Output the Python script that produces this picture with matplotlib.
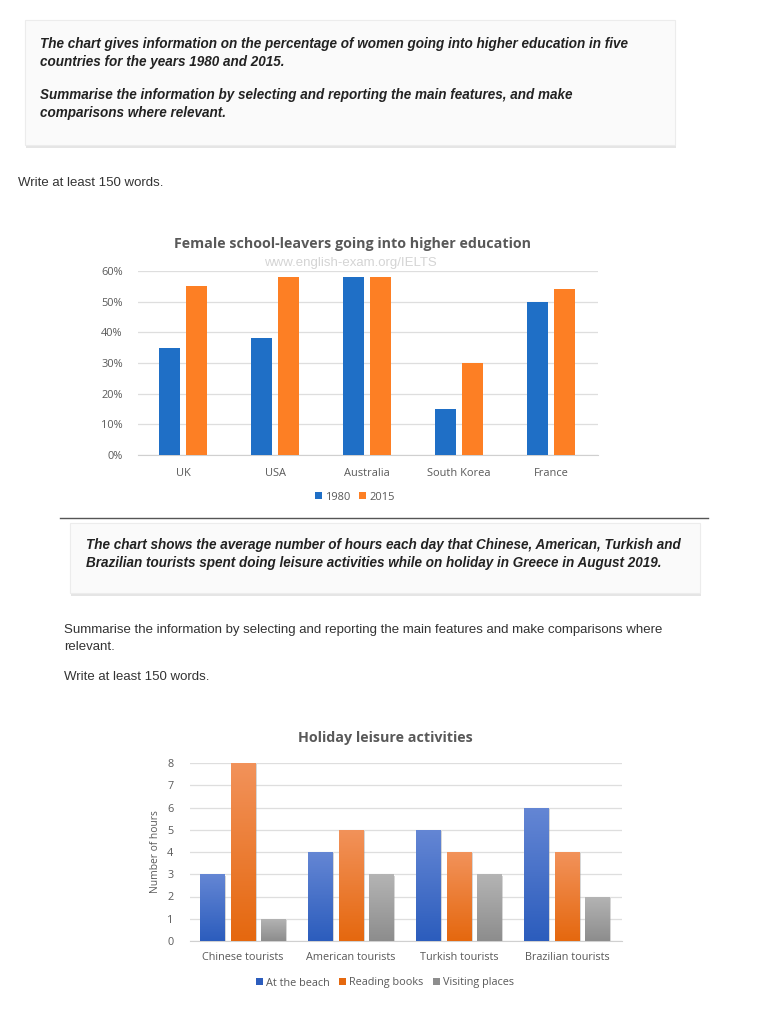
import matplotlib
matplotlib.use("Agg")
import matplotlib.pyplot as plt
import matplotlib.patheffects as pe
from matplotlib.patches import Rectangle, Patch
from matplotlib.colors import LinearSegmentedColormap
from matplotlib.ticker import FuncFormatter
import numpy as np

# chart 1 data
countries = ["UK", "USA", "Australia", "South Korea", "France"]
years = ["1980", "2015"]
pct_1980 = [35, 38, 58, 15, 50]
pct_2015 = [55, 58, 58, 30, 54]
pct_ticks = [0, 10, 20, 30, 40, 50, 60]

# chart 2 data
tourists = ["Chinese tourists", "American tourists", "Turkish tourists", "Brazilian tourists"]
activities = ["At the beach", "Reading books", "Visiting places"]
hours_beach = [3, 4, 5, 6]
hours_books = [8, 5, 4, 4]
hours_places = [1, 3, 3, 2]
hour_ticks = [0, 1, 2, 3, 4, 5, 6, 7, 8]

W, H = 768, 1024
fig = plt.figure(figsize=(W / 100, H / 100), dpi=100)
fig.patch.set_facecolor("white")

txt_font = ["Liberation Sans", "DejaVu Sans"]
chart_font = ["Open Sans", "DejaVu Sans"]


def fx(px):
    return px / W


def fy(py):
    return 1 - py / H


def add_box(x0, y0, x1, y1):
    r = Rectangle((fx(x0), fy(y1)), fx(x1 - x0), (y1 - y0) / H,
                  transform=fig.transFigure, facecolor="#fafafa",
                  edgecolor="#ececec", linewidth=0.8,
                  path_effects=[pe.withSimplePatchShadow(offset=(1, -2), shadow_rgbFace="#999999", alpha=0.25)])
    fig.patches.append(r)


def ftext(x, y, s, **kw):
    fig.text(fx(x), fy(y), s, va="center", ha="left", **kw)


# --- top task box
add_box(25, 20, 675, 145)
bi = dict(fontsize=9.75, fontweight="bold", fontstyle="italic", color="#222222", family=txt_font)
ftext(40, 44, "The chart gives information on the percentage of women going into higher education in five", **bi)
ftext(40, 62, "countries for the years 1980 and 2015.", **bi)
ftext(40, 95, "Summarise the information by selecting and reporting the main features, and make", **bi)
ftext(40, 113, "comparisons where relevant.", **bi)

plain = dict(fontsize=9.55, color="#333333", family=txt_font)
ftext(18, 183, "Write at least 150 words.", **plain)

# --- chart 1
ax1 = fig.add_axes([fx(138), fy(455), fx(598 - 138), (455 - 271) / H])
x = np.arange(len(countries))
bw = 0.23
off = 0.147
c_blue = "#1f6fc6"
c_orange = "#fd7f24"
ax1.bar(x - off, pct_1980, bw, color=c_blue, zorder=3)
ax1.bar(x + off, pct_2015, bw, color=c_orange, zorder=3)
ax1.set_xlim(-0.49, 4.51)
ax1.set_ylim(0, 60)
ax1.set_yticks(pct_ticks)
ax1.yaxis.set_major_formatter(FuncFormatter(lambda v, p: f"{int(v)}%"))
ax1.set_xticks(x)
ax1.set_xticklabels(countries)
ax1.grid(axis="y", color="#dedede", linewidth=0.9, zorder=0)
for s in ["top", "right", "left"]:
    ax1.spines[s].set_visible(False)
ax1.spines["bottom"].set_color("#d0d0d0")
ax1.tick_params(length=0, labelsize=7.9, labelcolor="#595959", pad=9)
for lab in ax1.get_xticklabels() + ax1.get_yticklabels():
    lab.set_family(chart_font)
ax1.tick_params(axis="y", pad=11)
fig.text(fx(353), fy(244), "Female school-leavers going into higher education", ha="center", va="center",
         fontsize=10.3, fontweight="bold", color="#595959", family=chart_font)
fig.text(fx(350), fy(263), "www.english-exam.org/IELTS", ha="center", va="center",
         fontsize=9.5, color="#d4d4d4", family=txt_font)
h1 = [Patch(facecolor=c, label=l) for c, l in zip([c_blue, c_orange], years)]
ax1.legend(handles=h1, loc="center", bbox_to_anchor=((355 - 138) / 460, -42 / 184), ncol=2, frameon=False,
           handlelength=0.6, handleheight=0.6, handletextpad=0.3, columnspacing=0.8,
           prop={"family": chart_font, "size": 8}, labelcolor="#595959")

# separator line
fig.add_artist(plt.Line2D([fx(60), fx(708)], [fy(518), fy(518)], color="#555555", linewidth=1.0,
                          transform=fig.transFigure))

# --- second task box
add_box(70, 523, 700, 593)
ftext(86, 545, "The chart shows the average number of hours each day that Chinese, American, Turkish and", **bi)
ftext(86, 563, "Brazilian tourists spent doing leisure activities while on holiday in Greece in August 2019.", **bi)

ftext(64, 630, "Summarise the information by selecting and reporting the main features and make comparisons where", **plain)
ftext(64, 647, "relevant.", **plain)
ftext(64, 677, "Write at least 150 words.", **plain)

# --- chart 2
ax2 = fig.add_axes([fx(190), fy(941), fx(622 - 190), (941 - 763) / H])
x2 = np.arange(len(tourists))
bw2 = 0.225
off2 = 0.283
grads = [("#6486d4", "#2c5dbd"), ("#f2925a", "#e5680f"), ("#b4b4b4", "#8d8d8d")]
series = [hours_beach, hours_books, hours_places]
grad = np.linspace(1, 0, 64).reshape(-1, 1)
for i, (vals, (ctop, cbot)) in enumerate(zip(series, grads)):
    bars = ax2.bar(x2 + (i - 1) * off2, vals, bw2, color=cbot, zorder=3,
                   path_effects=[pe.withSimplePatchShadow(offset=(1.2, -1), shadow_rgbFace="#999999", alpha=0.4)])
    cmap = LinearSegmentedColormap.from_list("g%d" % i, [cbot, ctop])
    for b in bars:
        bx, by = b.get_x(), b.get_y()
        img = ax2.imshow(grad, extent=[bx, bx + b.get_width(), by, by + b.get_height()], aspect="auto",
                         cmap=cmap, vmin=0, vmax=1, origin="upper", zorder=4)
        img.set_clip_path(b)
ax2.set_xlim(-0.49, 3.51)
ax2.set_ylim(0, 8)
ax2.set_yticks(hour_ticks)
ax2.set_xticks(x2)
ax2.set_xticklabels(tourists)
ax2.grid(axis="y", color="#dedede", linewidth=0.9, zorder=0)
for s in ["top", "right", "left"]:
    ax2.spines[s].set_visible(False)
ax2.spines["bottom"].set_color("#d0d0d0")
ax2.tick_params(length=0, labelsize=7.8, labelcolor="#595959", pad=8)
ax2.tick_params(axis="y", pad=12)
for lab in ax2.get_xticklabels() + ax2.get_yticklabels():
    lab.set_family(chart_font)
ax2.set_ylabel("Number of hours", fontsize=7.4, color="#595959", family=chart_font, labelpad=4)
fig.text(fx(385), fy(738), "Holiday leisure activities", ha="center", va="center",
         fontsize=10.3, fontweight="bold", color="#595959", family=chart_font)
h2 = [Patch(facecolor=c[1], label=l) for c, l in zip(grads, activities)]
ax2.legend(handles=h2, loc="center", bbox_to_anchor=((385 - 190) / 432, -42 / 178), ncol=3, frameon=False,
           handlelength=0.6, handleheight=0.6, handletextpad=0.3, columnspacing=0.9,
           prop={"family": chart_font, "size": 7.8}, labelcolor="#595959")

fig.savefig("out.png", dpi=100, facecolor="white")
